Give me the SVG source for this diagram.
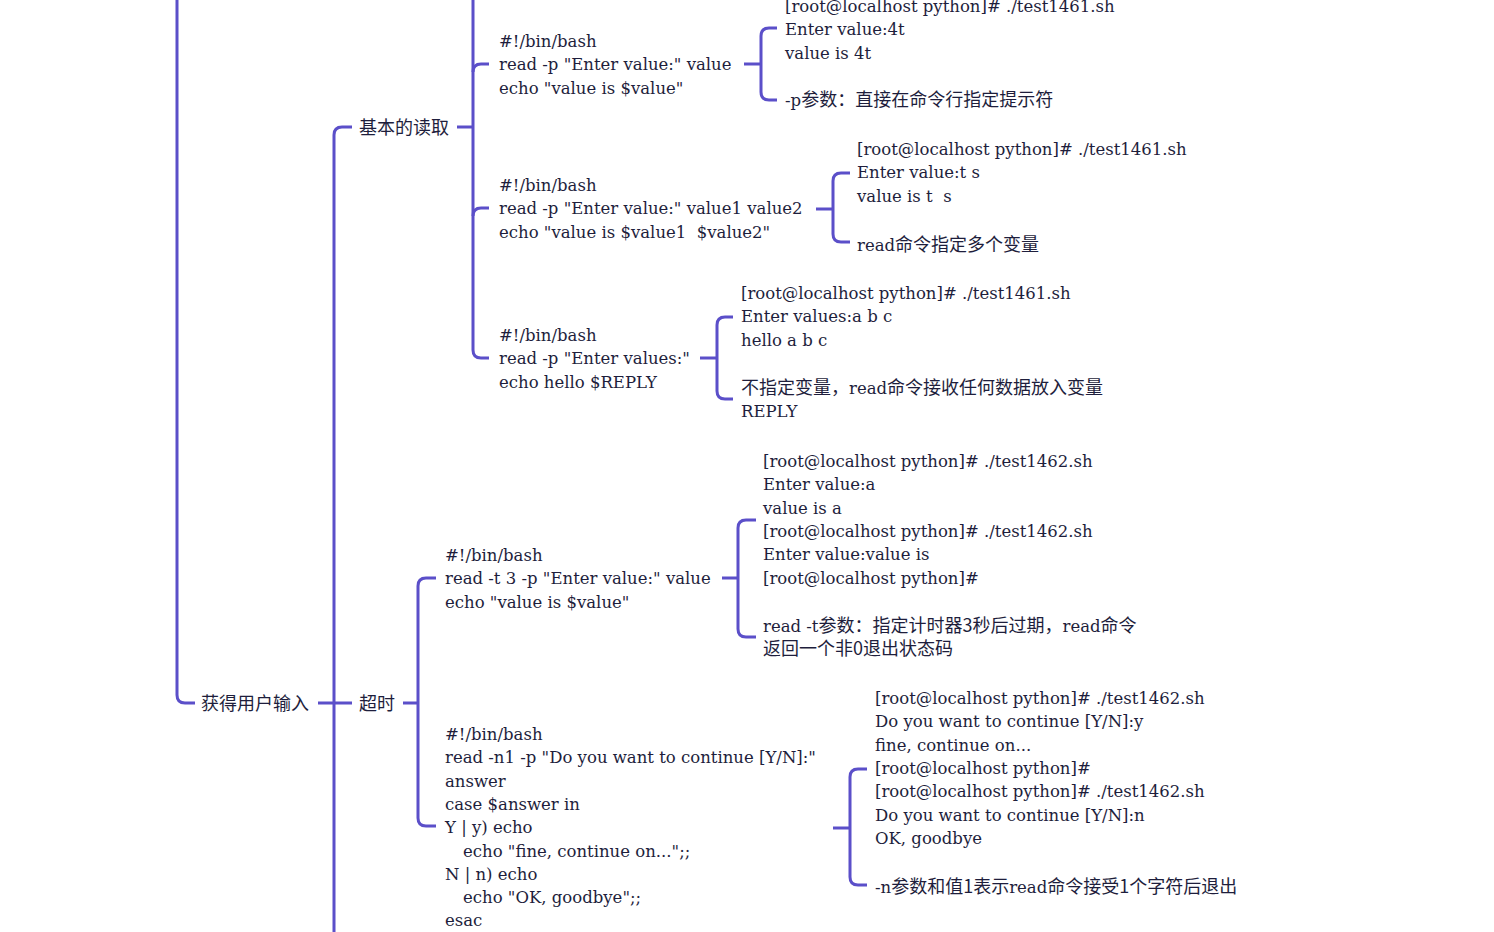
<svg xmlns="http://www.w3.org/2000/svg" width="1494" height="932" viewBox="0 0 1494 932">
<style>
.bg{fill:#ffffff}
.ln{fill:none;stroke:#5b4fc9;stroke-width:3;stroke-linecap:butt;stroke-linejoin:round}
.t{font-family:"DejaVu Serif","Noto Sans CJK SC",serif;font-size:16.5px;fill:#1e1e3c;white-space:pre}
.c{font-family:"Noto Sans CJK SC",sans-serif;font-size:18px}
.n{font-family:"Noto Sans CJK SC",sans-serif;font-size:18px;fill:#1e1e3c}
</style>
<rect class="bg" x="0" y="0" width="1494" height="932"/>
<g id="connectors">
  <path class="ln" d="M177,0 V695 Q177,703 185,703 H195"/>
  <path class="ln" d="M318,703 H352"/>
  <path class="ln" d="M352,127 H342 Q334,127 334,135 V932"/>
  <path class="ln" d="M457,127 H473"/>
  <path class="ln" d="M473,0 V350 Q473,358 481,358 H489"/>
  <path class="ln" d="M473,72 Q473,64 481,64 H489"/>
  <path class="ln" d="M473,216 Q473,208 481,208 H489"/>
  <path class="ln" d="M744,64 H761"/>
  <path class="ln" d="M777,28 H769 Q761,28 761,36 V92 Q761,100 769,100 H777"/>
  <path class="ln" d="M816,209 H833"/>
  <path class="ln" d="M850,173 H841 Q833,173 833,181 V234 Q833,242 841,242 H850"/>
  <path class="ln" d="M700,358 H717"/>
  <path class="ln" d="M733,317 H725 Q717,317 717,325 V391 Q717,399 725,399 H733"/>
  <path class="ln" d="M403,703 H418"/>
  <path class="ln" d="M436,578 H426 Q418,578 418,586 V818 Q418,826 426,826 H436"/>
  <path class="ln" d="M722,578 H738"/>
  <path class="ln" d="M756,520 H746 Q738,520 738,528 V629 Q738,637 746,637 H756"/>
  <path class="ln" d="M833,828 H850"/>
  <path class="ln" d="M867,769 H858 Q850,769 850,777 V877 Q850,885 858,885 H867"/>
</g>
<g id="node-root">
  <text class="n" x="201" y="710">获得用户输入</text>
</g>
<g id="node-basic">
  <text class="n" x="359" y="134">基本的读取</text>
</g>
<g id="node-timeout">
  <text class="n" x="359" y="710">超时</text>
</g>
<g id="node-a">
  <text class="t" x="499" y="47"><tspan x="499">#!/bin/bash</tspan><tspan x="499" dy="23.3">read -p "Enter value:" value</tspan><tspan x="499" dy="23.3">echo "value is $value"</tspan></text>
</g>
<g id="node-a-result">
  <text class="t" x="785" y="12"><tspan x="785">[root@localhost python]# ./test1461.sh</tspan><tspan x="785" dy="23.3">Enter value:4t</tspan><tspan x="785" dy="23.3">value is 4t</tspan><tspan x="785" dy="47">-p<tspan class="c">参数：直接在命令行指定提示符</tspan></tspan></text>
</g>
<g id="node-b">
  <text class="t" x="499" y="191"><tspan x="499">#!/bin/bash</tspan><tspan x="499" dy="23.3">read -p "Enter value:" value1 value2</tspan><tspan x="499" dy="23.3">echo "value is $value1  $value2"</tspan></text>
</g>
<g id="node-b-result">
  <text class="t" x="857" y="155"><tspan x="857">[root@localhost python]# ./test1461.sh</tspan><tspan x="857" dy="23.3">Enter value:t s</tspan><tspan x="857" dy="23.3">value is t  s</tspan><tspan x="857" dy="49">read<tspan class="c">命令指定多个变量</tspan></tspan></text>
</g>
<g id="node-c">
  <text class="t" x="499" y="341"><tspan x="499">#!/bin/bash</tspan><tspan x="499" dy="23.3">read -p "Enter values:"</tspan><tspan x="499" dy="23.6">echo hello $REPLY</tspan></text>
</g>
<g id="node-c-result">
  <text class="t" x="741" y="299"><tspan x="741">[root@localhost python]# ./test1461.sh</tspan><tspan x="741" dy="23.3">Enter values:a b c</tspan><tspan x="741" dy="23.6">hello a b c</tspan><tspan x="741" dy="48"><tspan class="c">不指定变量，</tspan>read<tspan class="c">命令接收任何数据放入变量</tspan></tspan><tspan x="741" dy="23.3">REPLY</tspan></text>
</g>
<g id="node-d">
  <text class="t" x="445" y="561"><tspan x="445">#!/bin/bash</tspan><tspan x="445" dy="23.3">read -t 3 -p "Enter value:" value</tspan><tspan x="445" dy="23.6">echo "value is $value"</tspan></text>
</g>
<g id="node-d-result">
  <text class="t" x="763" y="467"><tspan x="763">[root@localhost python]# ./test1462.sh</tspan><tspan x="763" dy="23.3">Enter value:a</tspan><tspan x="763" dy="23.3">value is a</tspan><tspan x="763" dy="23.3">[root@localhost python]# ./test1462.sh</tspan><tspan x="763" dy="23.3">Enter value:value is</tspan><tspan x="763" dy="23.3">[root@localhost python]#</tspan><tspan x="763" dy="48">read -t<tspan class="c">参数：指定计时器3秒后过期，</tspan>read<tspan class="c">命令</tspan></tspan><tspan x="763" dy="23.3" class="c">返回一个非0退出状态码</tspan></text>
</g>
<g id="node-e">
  <text class="t" x="445" y="740"><tspan x="445">#!/bin/bash</tspan><tspan x="445" dy="23.3">read -n1 -p "Do you want to continue [Y/N]:"</tspan><tspan x="445" dy="23.3">answer</tspan><tspan x="445" dy="23.3">case $answer in</tspan><tspan x="445" dy="23.3">Y | y) echo</tspan><tspan x="463" dy="23.3">echo "fine, continue on...";;</tspan><tspan x="445" dy="23.3">N | n) echo</tspan><tspan x="463" dy="23.3">echo "OK, goodbye";;</tspan><tspan x="445" dy="23.3">esac</tspan></text>
</g>
<g id="node-e-result">
  <text class="t" x="875" y="704"><tspan x="875">[root@localhost python]# ./test1462.sh</tspan><tspan x="875" dy="23.3">Do you want to continue [Y/N]:y</tspan><tspan x="875" dy="23.3">fine, continue on...</tspan><tspan x="875" dy="23.3">[root@localhost python]#</tspan><tspan x="875" dy="23.3">[root@localhost python]# ./test1462.sh</tspan><tspan x="875" dy="23.3">Do you want to continue [Y/N]:n</tspan><tspan x="875" dy="23.3">OK, goodbye</tspan><tspan x="875" dy="49">-n<tspan class="c">参数和值1表示</tspan>read<tspan class="c">命令接受1个字符后退出</tspan></tspan></text>
</g>
</svg>
